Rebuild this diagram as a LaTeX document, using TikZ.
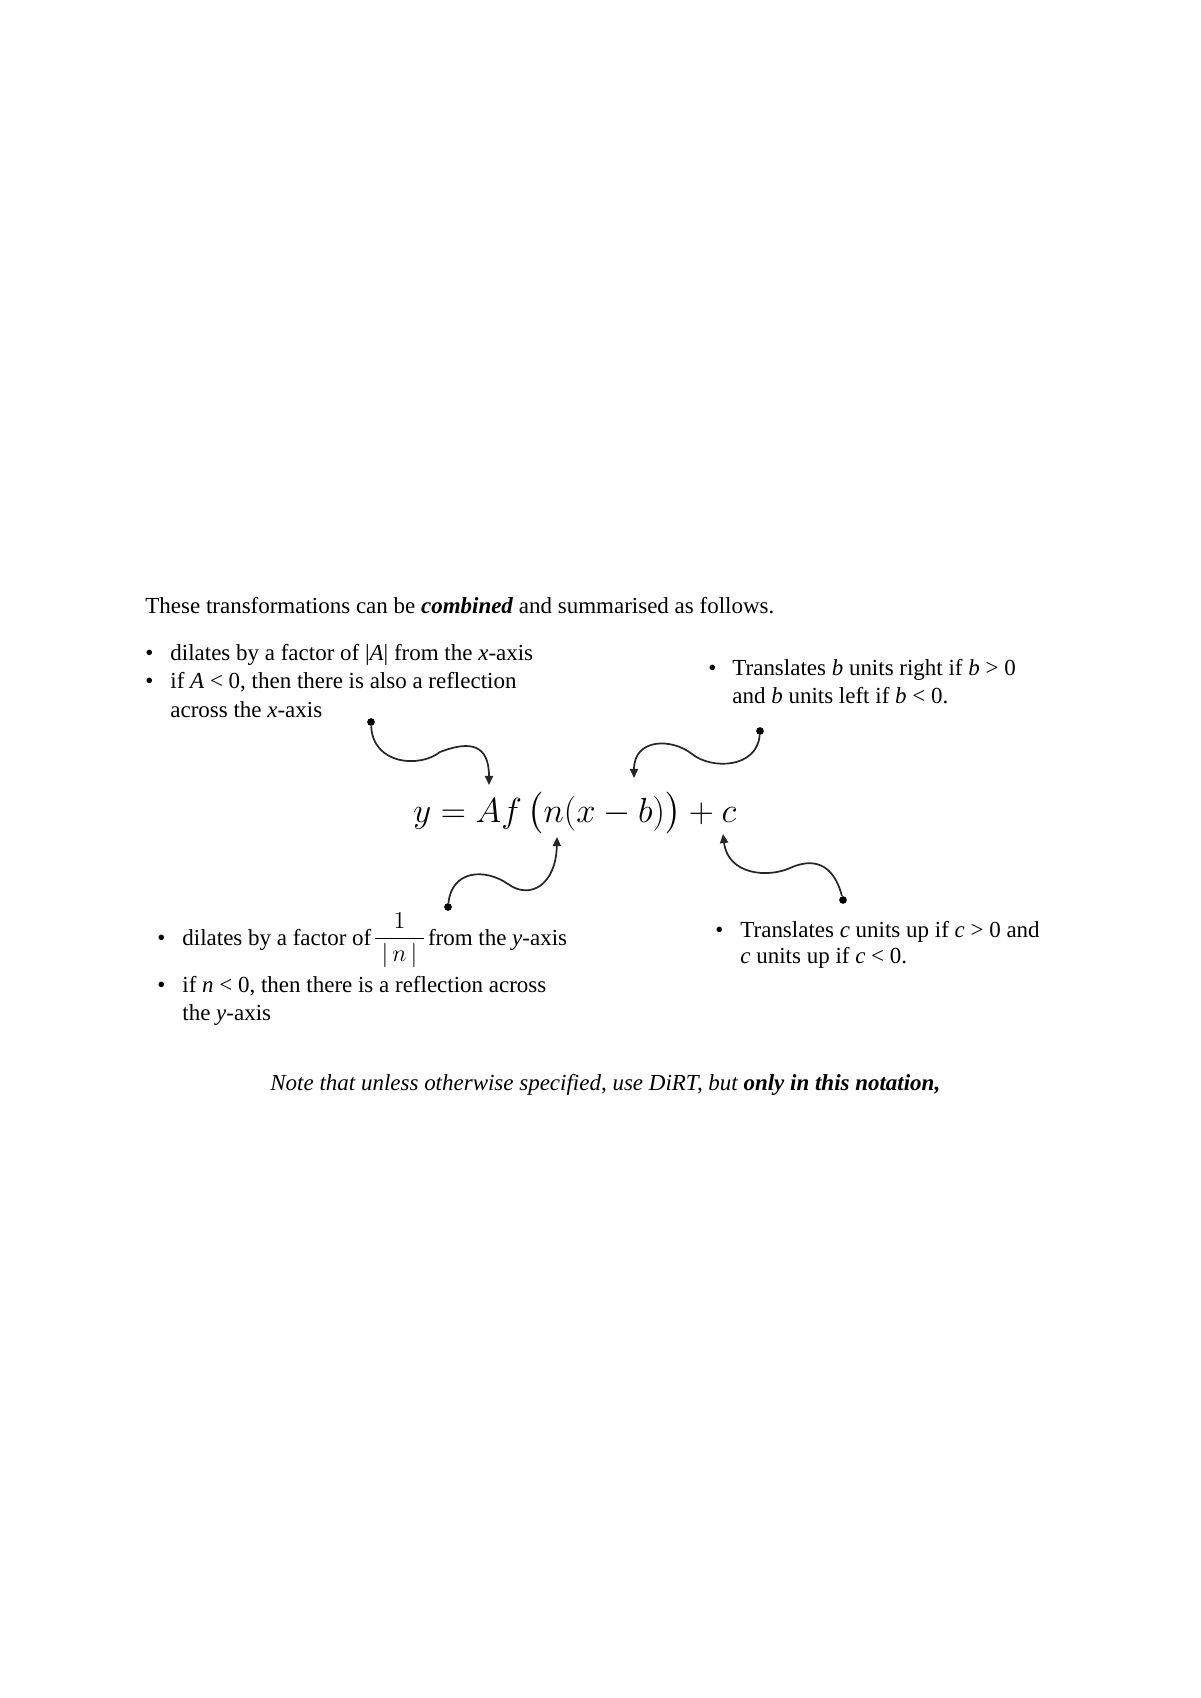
\documentclass[tikz,border=0pt]{standalone}
\usepackage{amsmath}
\usepackage{fontspec}
\setmainfont{Liberation Serif}
\usetikzlibrary{arrows.meta}
\begin{document}
\begin{tikzpicture}[x=0.4961pt,y=-0.4961pt,
  txt/.style={inner sep=0pt,anchor=base west,font=\fontsize{11.4}{13.5}\selectfont},
  bul/.style={inner sep=0pt,anchor=base west,font=\fontsize{11.4}{13.5}\selectfont},
  dotnode/.style={circle,fill=black,inner sep=0pt,minimum size=3.8pt},
  conn/.style={line width=0.85pt,draw=black!85,-{Triangle[length=4.5pt,width=4pt]}}]
\useasboundingbox[fill=white] (0,0) rectangle (1200,1698);

% header
\node[txt] (head) at (145,613) {These transformations can be \textbf{\textit{combined}} and summarised as follows.};

% top-left block
\node[bul] (b1) at (145,660) {•};
\node[txt] (l1) at (170,660) {dilates by a factor of |\textit{A}| from the \textit{x}-axis};
\node[bul] (b2) at (145,688) {•};
\node[txt] (l2) at (170,688) {if \textit{A} < 0, then there is also a reflection};
\node[txt] (l3) at (170,717) {across the \textit{x}-axis};

% top-right block
\node[bul] (b3) at (708,675) {•};
\node[txt] (r1) at (732,675) {Translates \textit{b} units right if \textit{b} > 0};
\node[txt] (r2) at (732,703) {and \textit{b} units left if \textit{b} < 0.};

% equation
\node[inner sep=0pt,anchor=base west,font=\fontsize{16.8}{20}\selectfont] (eq) at (413,822) {$y = Af\,\bigl(n(x-b)\bigr)+c$};

% bottom-left block
\node[bul] (b4) at (157,945) {•};
\node[txt] (m1) at (182,945) {dilates by a factor of\hspace{0.6pt}{\fontsize{13}{15}\selectfont$\dfrac{1}{\;|\,n\,|\;}$}\hspace{0.8pt}from the \textit{y}-axis};
\node[bul] (b5) at (157,992) {•};
\node[txt] (m2) at (182,992) {if \textit{n} < 0, then there is a reflection across};
\node[txt] (m3) at (182,1020) {the \textit{y}-axis};

% bottom-right block
\node[bul] (b6) at (715,937) {•};
\node[txt] (s1) at (740,937) {Translates \textit{c} units up if \textit{c} > 0 and};
\node[txt] (s2) at (740,963) {\textit{c} units up if \textit{c} < 0.};

% note
\node[txt] (note) at (270,1090) {\textit{Note that unless otherwise specified, use DiRT, but \textbf{only in this notation,}}};

% connectors
\node[dotnode] (dA) at (371,722) {};
\coordinate (mA) at (440,752);
\coordinate (tA) at (489,785);
\draw[conn] (dA) .. controls (373,765) and (420,768) .. (mA)
  .. controls (471,740) and (489,745) .. (tA);

\node[dotnode] (dB) at (760,731) {};
\coordinate (mB) at (692,754);
\coordinate (tB) at (634,778);
\draw[conn] (dB) .. controls (757,768) and (712,770) .. (mB)
  .. controls (672,738) and (634,738) .. (tB);

\node[dotnode] (dN) at (448,907) {};
\coordinate (mN) at (508,884);
\coordinate (tN) at (557,837);
\draw[conn] (dN) .. controls (452,870) and (485,868) .. (mN)
  .. controls (530,900) and (556,885) .. (tN);

\node[dotnode] (dC) at (843,900) {};
\coordinate (mC) at (790,868);
\coordinate (tC) at (723,834);
\draw[conn] (dC) .. controls (833,862) and (812,858) .. (mC)
  .. controls (768,878) and (728,875) .. (tC);
\end{tikzpicture}
\end{document}
